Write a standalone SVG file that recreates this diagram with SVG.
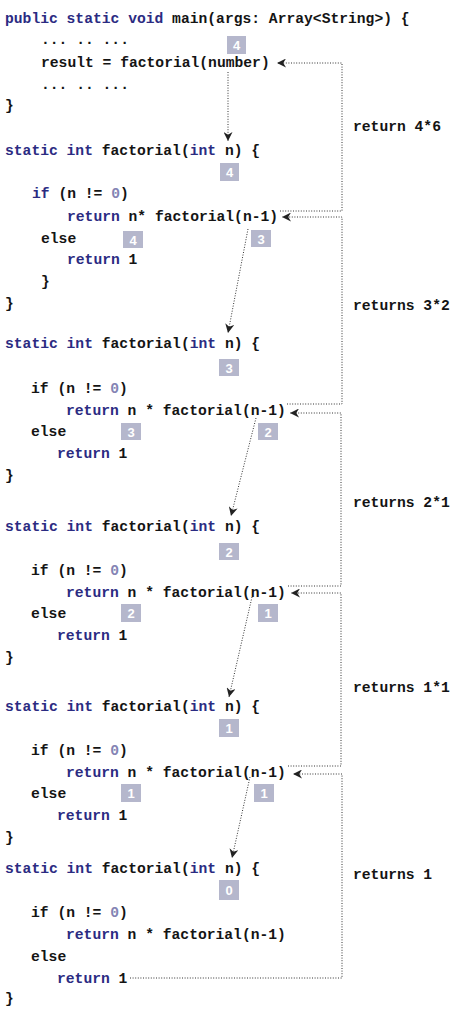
<svg xmlns="http://www.w3.org/2000/svg" width="456" height="1017" viewBox="0 0 456 1017">
<defs>
<style>
text{font-family:"Liberation Mono","DejaVu Sans Mono",monospace;font-weight:bold;font-size:14.67px;fill:#141414;white-space:pre}
.k{fill:#2b2b82}
.n{fill:#8484b4}
.b{fill:#b5b7cc}
.bt{font-family:"Liberation Sans","DejaVu Sans",sans-serif;font-size:13px;fill:#ffffff;text-anchor:middle}
.c{fill:none;stroke:#333;stroke-width:1;stroke-dasharray:1 1.6}
</style>
<marker id="ah" viewBox="0 0 10 10" refX="10" refY="5" markerWidth="9" markerHeight="9" markerUnits="userSpaceOnUse" orient="auto">
<path d="M0,0 L10,5 L0,10 L3,5 z" fill="#222"/>
</marker>
</defs>
<rect width="456" height="1017" fill="#ffffff"/>

<g id="main">
<text x="5" y="23"><tspan class="k">public static void</tspan> main(args: Array&lt;String&gt;) {</text>
<text x="41" y="44">... .. ...</text>
<text x="41" y="67">result = factorial(number)</text>
<text x="41" y="89">... .. ...</text>
<text x="5" y="110">}</text>
<rect class="b" x="227" y="36" width="19" height="18"/><text class="bt" x="236.5" y="50">4</text>
</g>

<g id="fact4">
<text x="5" y="155"><tspan class="k">static int</tspan> factorial(<tspan class="k">int</tspan> n) {</text>
<rect class="b" x="220" y="163" width="19" height="18"/><text class="bt" x="229.5" y="177">4</text>
<text x="32" y="198"><tspan class="k">if</tspan> (n != <tspan class="n">0</tspan>)</text>
<text x="67" y="221"><tspan class="k">return</tspan> n* factorial(n-1)</text>
<text x="41" y="243">else</text>
<rect class="b" x="123" y="231" width="20" height="17"/><text class="bt" x="133" y="244.5">4</text>
<rect class="b" x="251" y="230" width="20" height="17"/><text class="bt" x="261" y="243.5">3</text>
<text x="67" y="264"><tspan class="k">return</tspan> 1</text>
<text x="41" y="286">}</text>
<text x="5" y="308">}</text>
</g>

<g id="fact3">
<text x="5" y="348"><tspan class="k">static int</tspan> factorial(<tspan class="k">int</tspan> n) {</text>
<rect class="b" x="219" y="359" width="20" height="17"/><text class="bt" x="229" y="372.5">3</text>
<text x="31" y="393">if (n != <tspan class="n">0</tspan>)</text>
<text x="66" y="415"><tspan class="k">return</tspan> n * factorial(n-1)</text>
<text x="31" y="436">else</text>
<rect class="b" x="121" y="423" width="20" height="17"/><text class="bt" x="131" y="436.5">3</text>
<rect class="b" x="258" y="423" width="20" height="17"/><text class="bt" x="268" y="436.5">2</text>
<text x="57" y="458"><tspan class="k">return</tspan> 1</text>
<text x="5" y="480">}</text>
</g>

<g id="fact2">
<text x="5" y="531"><tspan class="k">static int</tspan> factorial(<tspan class="k">int</tspan> n) {</text>
<rect class="b" x="219" y="543" width="20" height="17"/><text class="bt" x="229" y="556.5">2</text>
<text x="31" y="575">if (n != <tspan class="n">0</tspan>)</text>
<text x="66" y="597"><tspan class="k">return</tspan> n * factorial(n-1)</text>
<text x="31" y="618">else</text>
<rect class="b" x="121" y="604" width="20" height="18"/><text class="bt" x="131" y="618">2</text>
<rect class="b" x="258" y="604" width="20" height="18"/><text class="bt" x="268" y="618">1</text>
<text x="57" y="640"><tspan class="k">return</tspan> 1</text>
<text x="5" y="662">}</text>
</g>

<g id="fact1">
<text x="5" y="711"><tspan class="k">static int</tspan> factorial(<tspan class="k">int</tspan> n) {</text>
<rect class="b" x="219" y="719" width="20" height="18"/><text class="bt" x="229" y="733">1</text>
<text x="31" y="755">if (n != <tspan class="n">0</tspan>)</text>
<text x="66" y="777"><tspan class="k">return</tspan> n * factorial(n-1)</text>
<text x="31" y="798">else</text>
<rect class="b" x="121" y="784" width="20" height="18"/><text class="bt" x="131" y="798">1</text>
<rect class="b" x="254" y="784" width="20" height="18"/><text class="bt" x="264" y="798">1</text>
<text x="57" y="820"><tspan class="k">return</tspan> 1</text>
<text x="5" y="842">}</text>
</g>

<g id="fact0">
<text x="5" y="873"><tspan class="k">static int</tspan> factorial(<tspan class="k">int</tspan> n) {</text>
<rect class="b" x="219" y="880" width="20" height="20"/><text class="bt" x="229" y="895">0</text>
<text x="31" y="917">if (n != <tspan class="n">0</tspan>)</text>
<text x="66" y="939"><tspan class="k">return</tspan> n * factorial(n-1)</text>
<text x="31" y="961">else</text>
<text x="57" y="983"><tspan class="k">return</tspan> 1</text>
<text x="5" y="1003">}</text>
</g>

<g id="labels">
<text x="353" y="131">return 4*6</text>
<text x="353" y="310">returns 3*2</text>
<text x="353" y="507">returns 2*1</text>
<text x="353" y="692">returns 1*1</text>
<text x="353" y="879">returns 1</text>
</g>

<g id="connectors">
<path class="c" d="M228,72 L228,141" marker-end="url(#ah)"/>
<path class="c" d="M280,211 L342,211 L342,63 L277,63" marker-end="url(#ah)"/>
<path class="c" d="M248,229 L228,333" marker-end="url(#ah)"/>
<path class="c" d="M287,404 L342,404 L342,217 L282,217" marker-end="url(#ah)"/>
<path class="c" d="M256,418 L231,516" marker-end="url(#ah)"/>
<path class="c" d="M288,586 L341,586 L341,413 L290,413" marker-end="url(#ah)"/>
<path class="c" d="M252,597 L229,697" marker-end="url(#ah)"/>
<path class="c" d="M288,766 L341,766 L341,593 L291,593" marker-end="url(#ah)"/>
<path class="c" d="M250,777 L232,858" marker-end="url(#ah)"/>
<path class="c" d="M130,978 L342,978 L342,774 L293,774" marker-end="url(#ah)"/>
</g>
</svg>
